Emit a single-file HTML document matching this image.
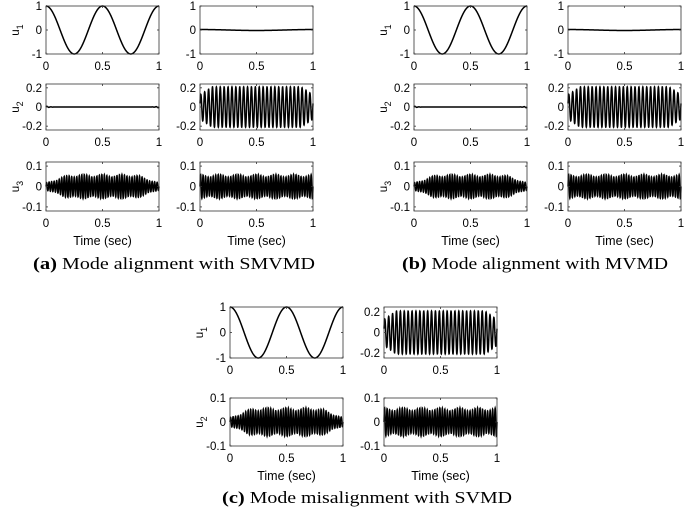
<!DOCTYPE html>
<html><head><meta charset="utf-8"><style>
body{margin:0;background:#fff;}
svg{display:block;}
.tk{font-family:"Liberation Sans",sans-serif;font-size:11.5px;fill:#000;}
.cap{font-family:"Liberation Serif",serif;font-size:16.5px;fill:#000;}
</style></head><body>
<svg id="fig" width="685" height="512" viewBox="0 0 685 512"></svg>
<script>
// Mode signal parameters
const cosFreq = [2];
const hfFreq = [29];
const hfAmp = [0.21];
const midFreq = [45];
const midAmp = [0.055];
const residualAmp = [0.01];
const xTicks = [0, 0.5, 1];
const xTickLabels = ['0', '0.5', '1'];
const axU1 = {lim:1,ticks:[1,0,-1],labels:['1','0','-1']};
const axU2 = {lim:0.24,ticks:[0.2,0,-0.2],labels:['0.2','0','-0.2']};
const axU3 = {lim:0.12,ticks:[0.1,0,-0.1],labels:['0.1','0','-0.1']};
const axU2c = {lim:0.25,ticks:[0.2,0,-0.2],labels:['0.2','0','-0.2']};
const axU3c = {lim:0.1,ticks:[0.1,0,-0.1],labels:['0.1','0','-0.1']};
const panelA = {id:'a', cols:[46,200], rows:[
  {top:6,bot:54,ax:[axU1,axU1],sig:['cos','flat1']},
  {top:84,bot:130,ax:[axU2,axU2],sig:['flat2','hf']},
  {top:162,bot:211,ax:[axU3,axU3],sig:['midTaper','mid']}],
  ulab:['1','2','3'], caption:['(a)',' Mode alignment with SMVMD'], capX:33, capY:269, capW:282};
const panelB = {id:'b', cols:[414,568], rows:panelA.rows, ulab:panelA.ulab,
  caption:['(b)',' Mode alignment with MVMD'], capX:402, capY:269, capW:266};
const panelC = {id:'c', cols:[230,384], rows:[
  {top:307,bot:358,ax:[axU1,axU2c],sig:['cos','hf']},
  {top:398,bot:446,ax:[axU3c,axU3c],sig:['midTaper','mid']}],
  ulab:['1','2'], caption:['(c)',' Mode misalignment with SVMD'], capX:222, capY:503, capW:290};
const panels=[panelA,panelB,panelC];
const W=113, NS=1400;
const svg=document.getElementById('fig');
const NS_='http://www.w3.org/2000/svg';
function mk(tag,attrs,parent){const e=document.createElementNS(NS_,tag);for(const k in attrs)e.setAttribute(k,attrs[k]);(parent||svg).appendChild(e);return e;}
function sig(kind,t){
  switch(kind){
    case 'cos': return Math.cos(2*Math.PI*cosFreq[0]*t);
    case 'flat1': return 0.02*Math.cos(2*Math.PI*t);
    case 'flat2': { const e=Math.exp(-t*40)+Math.exp(-(1-t)*40); return residualAmp[0]*e*Math.sin(2*Math.PI*hfFreq[0]*t);}
    case 'hf': return hfAmp[0]*(0.6+0.4*Math.min(1,Math.sin(Math.PI*t)*3))*Math.sin(2*Math.PI*hfFreq[0]*t+0.3);
    case 'midTaper': return midAmp[0]*(0.3+0.7*Math.min(1,Math.sin(Math.PI*t)*1.6))*(Math.sin(2*Math.PI*midFreq[0]*t)+0.12*Math.sin(2*Math.PI*(midFreq[0]+6)*t))/1.05;
    case 'mid': return midAmp[0]*(Math.sin(2*Math.PI*midFreq[0]*t)+0.12*Math.sin(2*Math.PI*(midFreq[0]+6)*t))/1.05;
  }
  return 0;
}
panels.forEach(p=>{
  const g=mk('g',{});
  
  
  p.rows.forEach((r,ri)=>{
    const yc=(r.top+r.bot)/2;
    const lab=mk('text',{class:'tk',transform:`translate(${p.cols[0]-27},${yc}) rotate(-90)`,'text-anchor':'middle'},g);
    
    
    lab.textContent='u';
    const sub=mk('tspan',{dy:'4','font-size':'9'},lab); sub.textContent=p.ulab[ri];
    p.cols.forEach((x0,ci)=>{
      const A=r.ax[ci];
      const ys=v=>yc-v/A.lim*(r.bot-r.top)/2;
      const xs=v=>x0+v*W;
      const ax=mk('g',{},g);
      
      
      let d='';
      for(let i=0;i<=NS;i++){const t=i/NS;d+=(i?'L':'M')+xs(t).toFixed(2)+','+Math.max(r.top,Math.min(r.bot,ys(sig(r.sig[ci],t)))).toFixed(2);}
      const ln=mk('path',{d,fill:'none',stroke:'#000','stroke-width':1.5},ax);
      
      
      mk('rect',{x:x0,y:r.top,width:W,height:r.bot-r.top,fill:'none',stroke:'#333','stroke-width':0.8},ax);
      xTicks.forEach((v,k)=>{
        mk('line',{x1:xs(v),x2:xs(v),y1:r.bot,y2:r.bot-2,stroke:'#333','stroke-width':0.8},ax);
        mk('line',{x1:xs(v),x2:xs(v),y1:r.top,y2:r.top+2,stroke:'#333','stroke-width':0.8},ax);
        const tl=mk('text',{class:'tk',x:xs(v),y:r.bot+16,'text-anchor':'middle'},ax);
        
        
        tl.textContent=xTickLabels[k];
      });
      A.ticks.forEach((v,k)=>{
        mk('line',{x1:x0,x2:x0+2,y1:ys(v),y2:ys(v),stroke:'#333','stroke-width':0.8},ax);
        mk('line',{x1:x0+W,x2:x0+W-2,y1:ys(v),y2:ys(v),stroke:'#333','stroke-width':0.8},ax);
        const tl=mk('text',{class:'tk',x:x0-4,y:ys(v)+4,'text-anchor':'end'},ax);
        
        
        tl.textContent=A.labels[k];
      });
      if(ri===p.rows.length-1){
        const xt=mk('text',{class:'tk',x:x0+W/2,y:r.bot+34,'text-anchor':'middle'},ax);
        
        
        xt.style.fontSize='12.5px';
        xt.textContent='Time (sec)';
      }
    });
  });
  const c=mk('text',{class:'cap',x:p.capX,y:p.capY,textLength:p.capW,lengthAdjust:'spacingAndGlyphs'},g);
  
  
  const b=mk('tspan',{'font-weight':'bold','font-size':'17'},c); b.textContent=p.caption[0];
  const r2=mk('tspan',{},c); r2.textContent=p.caption[1];
});
</script>
</body></html>
